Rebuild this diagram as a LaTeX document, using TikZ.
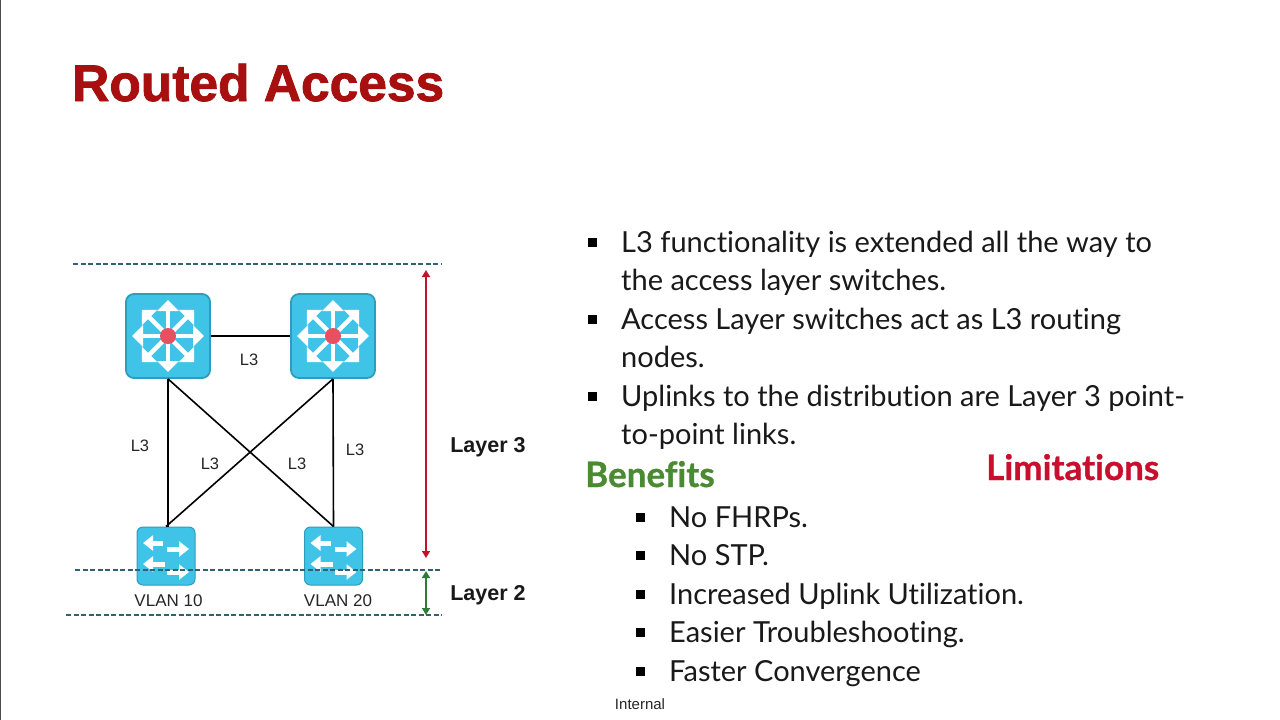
\documentclass[tikz,border=0pt]{standalone}
\usepackage{fontspec}
\setmainfont[Ligatures=NoCommon]{Lato}
\newfontfamily\labelfont{Liberation Sans}
\newfontfamily\titlefont[FakeBold=1.6]{Liberation Sans Bold}
\newfontfamily\headfont[Ligatures=NoCommon,FakeBold=0.8]{Lato Bold}
\usetikzlibrary{positioning}
\usetikzlibrary{arrows.meta}
\definecolor{swblue}{HTML}{3FC4E8}
\definecolor{swedge}{HTML}{2E9DBB}
\definecolor{swred}{HTML}{E8505F}
\definecolor{dashteal}{HTML}{2F6373}
\definecolor{titlered}{HTML}{A80F0F}
\definecolor{limitred}{HTML}{C8102E}
\definecolor{benefitgreen}{HTML}{4A8B32}
\definecolor{arrowred}{HTML}{C0142C}
\definecolor{arrowgreen}{HTML}{2E7D36}
\tikzset{
  coresw/.style={draw=swedge, line width=1.8pt, fill=swblue, rounded corners=8pt, minimum size=84pt, inner sep=0pt},
  accsw/.style={draw=swedge, line width=1pt, fill=swblue, rounded corners=6pt, minimum size=58pt, inner sep=0pt},
  link/.style={black, line width=1.6pt},
  layerline/.style={dashteal, dash pattern=on 5pt off 2.5pt, line width=1.2pt},
  linklabel/.style={font=\labelfont\fontsize{16.5}{16.5}\selectfont, text=black!85, inner sep=0pt},
  vlanlabel/.style={font=\labelfont\fontsize{17}{17}\selectfont, text=black!85, inner sep=0pt},
  layerlabel/.style={font=\labelfont\bfseries\fontsize{21.5}{21.5}\selectfont, text=black!90, inner sep=0pt},
  bodytext/.style={font=\fontsize{29}{29}\selectfont, text=black!90, anchor=base west, inner sep=0pt},
  headtext/.style={font=\headfont\fontsize{35}{35}\selectfont, anchor=base west, inner sep=0pt},
  sqbullet/.style={fill=black, minimum size=9pt, inner sep=0pt},
  whitearrow/.style={white, line width=4.5pt, -{Triangle[length=11pt,width=21pt]}},
  smallarrow/.style={white, line width=5pt, -{Triangle[length=10pt,width=15pt]}},
}
\begin{document}
\begin{tikzpicture}[x=1pt,y=-1pt]
  \useasboundingbox[fill=white] (0,0) rectangle (1280,720);
  \draw[black!70, line width=1pt] (0.5,0) -- (0.5,720);
  \node[font=\titlefont\fontsize{51.5}{51.5}\selectfont, text=titlered, anchor=base west, inner sep=0pt] (title) at (72,101) {Routed Access};

  % switches
  \node[coresw] (core1) at (168,336) {};
  \node[coresw] (core2) at (333,336) {};
  \node[accsw] (acc1) at (166,556) {};
  \node[accsw] (acc2) at (333.5,556) {};

  \foreach \sw in {core1,core2} {
    \foreach \ang in {0,90,180,270} {
      \draw[whitearrow] (\sw.center) -- ++(\ang:36pt);
    }
    \foreach \ang in {45,135,225,315} {
      \draw[whitearrow] (\sw.center) -- ++(\ang:37pt);
    }
    \fill[swred] (\sw.center) circle (8pt);
  }
  \foreach \sw in {acc1,acc2} {
    \draw[smallarrow] ([shift={(-3,-13)}]\sw.center) -- ++(-20,0);
    \draw[smallarrow] ([shift={(1,-7)}]\sw.center) -- ++(22,0);
    \draw[smallarrow] ([shift={(-1,8)}]\sw.center) -- ++(-22,0);
    \draw[smallarrow] ([shift={(1,16)}]\sw.center) -- ++(22,0);
  }

  % links
  \draw[link] (core1) -- (core2);
  \draw[link] (core1.south) -- (core1.south |- acc1.north);
  \draw[link] (core1.south) -- (acc2.north);
  \draw[link] (core2.south) -- (acc1.north);
  \draw[link] (core2.south) -- (acc2.north);

  \node[linklabel] (l3top) at (249,360) {L3};
  \node[linklabel] (l3left) at (140,446) {L3};
  \node[linklabel] (l3crossa) at (210,464) {L3};
  \node[linklabel] (l3crossb) at (297,464) {L3};
  \node[linklabel] (l3right) at (355,450) {L3};
  \node[vlanlabel] (vlan10) at (168.5,601) {VLAN 10};
  \node[vlanlabel] (vlan20) at (338,601) {VLAN 20};

  % layers
  \coordinate (topa) at (73,264);
  \coordinate (topb) at (442,264);
  \coordinate (mida) at (75,570);
  \coordinate (midb) at (442,570);
  \coordinate (bota) at (66,615);
  \coordinate (botb) at (442,615);
  \draw[layerline] (topa) -- (topb);
  \draw[layerline] (mida) -- (midb);
  \draw[layerline] (bota) -- (botb);
  \coordinate (redtop) at (426,270);
  \coordinate (redbot) at (426,558);
  \coordinate (greentop) at (426,571);
  \coordinate (greenbot) at (426,615);
  \draw[arrowred, line width=1.6pt, {Triangle[length=7pt,width=8pt]}-{Triangle[length=7pt,width=8pt]}] (redtop) -- (redbot);
  \draw[arrowgreen, line width=1.6pt, {Triangle[length=7pt,width=8pt]}-{Triangle[length=7pt,width=8pt]}] (greentop) -- (greenbot);
  \node[layerlabel] (layer3) at (488,447) {Layer 3};
  \node[layerlabel] (layer2) at (488,595) {Layer 2};

  % text
  \node[sqbullet] (b1) at (592,242) {};
  \node[bodytext] (t1) at (621,252) {L3 functionality is extended all the way to};
  \node[bodytext] (t1b) at (621,290) {the access layer switches.};
  \node[sqbullet] (b2) at (592,319) {};
  \node[bodytext] (t2) at (621,329) {Access Layer switches act as L3 routing};
  \node[bodytext] (t2b) at (621,367) {nodes.};
  \node[sqbullet] (b3) at (592,396) {};
  \node[bodytext] (t3) at (621,406) {Uplinks to the distribution are Layer 3 point-};
  \node[bodytext] (t3b) at (621,444) {to-point links.};

  \node[headtext, text=benefitgreen] (benefits) at (585,487) {Benefits};
  \node[headtext, text=limitred] (limits) at (986,480) {Limitations};

  \node[sqbullet] (c1) at (640,517) {};
  \node[bodytext] (s1) at (669,527) {No FHRPs.};
  \node[sqbullet] (c2) at (640,555) {};
  \node[bodytext] (s2) at (669,565) {No STP.};
  \node[sqbullet] (c3) at (640,594) {};
  \node[bodytext] (s3) at (669,604) {Increased Uplink Utilization.};
  \node[sqbullet] (c4) at (640,632) {};
  \node[bodytext] (s4) at (669,642) {Easier Troubleshooting.};
  \node[sqbullet] (c5) at (640,671) {};
  \node[bodytext] (s5) at (669,681) {Faster Convergence};

  \node[font=\labelfont\fontsize{15}{15}\selectfont, text=black!85, inner sep=0pt] (internal) at (640,704) {Internal};
\end{tikzpicture}
\end{document}
